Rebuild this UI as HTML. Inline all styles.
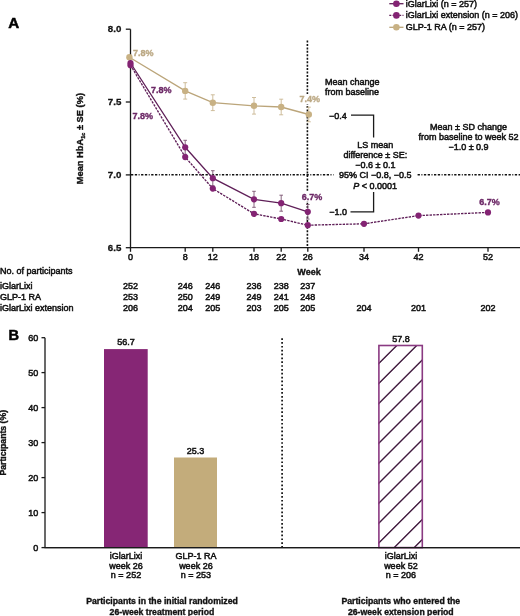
<!DOCTYPE html><html><head><meta charset="utf-8"><style>
html,body{margin:0;padding:0;background:#fff;}
svg{display:block;font-family:"Liberation Sans",Arial,Helvetica,sans-serif;}
.r{font-size:9px;fill:#111;stroke:#111;stroke-width:0.5px;paint-order:stroke;}
.b{font-size:9px;font-weight:bold;fill:#111;stroke:#111;stroke-width:0.35px;paint-order:stroke;}
.bt{font-size:9.1px;font-weight:bold;fill:#111;stroke:#111;stroke-width:0.3px;paint-order:stroke;}
</style></head><body>
<svg width="520" height="616" viewBox="0 0 520 616">
<text x="8.2" y="27.9" style="font-size:15.2px;font-weight:bold;stroke:#000;stroke-width:0.5px" fill="#000">A</text>
<path d="M130.5 29.2V247.7H520" fill="none" stroke="#1a1a1a" stroke-width="1.3"/>
<path d="M125.8 29.2H130.5" stroke="#1a1a1a" stroke-width="1.3"/>
<text class="bt" x="121.3" y="32.1" text-anchor="end" style="font-size:9.7px">8.0</text>
<path d="M125.8 102.0H130.5" stroke="#1a1a1a" stroke-width="1.3"/>
<text class="bt" x="121.3" y="104.9" text-anchor="end" style="font-size:9.7px">7.5</text>
<path d="M125.8 174.9H130.5" stroke="#1a1a1a" stroke-width="1.3"/>
<text class="bt" x="121.3" y="177.8" text-anchor="end" style="font-size:9.7px">7.0</text>
<path d="M125.8 247.7H130.5" stroke="#1a1a1a" stroke-width="1.3"/>
<text class="bt" x="121.3" y="250.6" text-anchor="end" style="font-size:9.7px">6.5</text>
<path d="M130.5 247.7V251.8" stroke="#1a1a1a" stroke-width="1.3"/>
<text class="r" x="130.5" y="260.4" text-anchor="middle">0</text>
<path d="M185.2 247.7V251.8" stroke="#1a1a1a" stroke-width="1.3"/>
<text class="r" x="185.2" y="260.4" text-anchor="middle">8</text>
<path d="M212.8 247.7V251.8" stroke="#1a1a1a" stroke-width="1.3"/>
<text class="r" x="212.8" y="260.4" text-anchor="middle">12</text>
<path d="M254.0 247.7V251.8" stroke="#1a1a1a" stroke-width="1.3"/>
<text class="r" x="254.0" y="260.4" text-anchor="middle">18</text>
<path d="M281.2 247.7V251.8" stroke="#1a1a1a" stroke-width="1.3"/>
<text class="r" x="281.2" y="260.4" text-anchor="middle">22</text>
<path d="M307.8 247.7V251.8" stroke="#1a1a1a" stroke-width="1.3"/>
<text class="r" x="307.8" y="260.4" text-anchor="middle">26</text>
<path d="M364.0 247.7V251.8" stroke="#1a1a1a" stroke-width="1.3"/>
<text class="r" x="364.0" y="260.4" text-anchor="middle">34</text>
<path d="M418.5 247.7V251.8" stroke="#1a1a1a" stroke-width="1.3"/>
<text class="r" x="418.5" y="260.4" text-anchor="middle">42</text>
<path d="M488.0 247.7V251.8" stroke="#1a1a1a" stroke-width="1.3"/>
<text class="r" x="488.0" y="260.4" text-anchor="middle">52</text>
<text class="b" x="309" y="275.1" text-anchor="middle">Week</text>
<text class="b" transform="translate(82.6 138.6) rotate(-90)" text-anchor="middle" style="font-size:9.3px">Mean HbA<tspan style="font-size:5.5px" dy="2">1c</tspan><tspan dy="-2"> ± SE (%)</tspan></text>
<path d="M131 174.8H520" stroke="#111" stroke-width="1.5" stroke-dasharray="2.3 1.5 2.3 1.5 1 1.5"/>
<path d="M307.4 40.5V247" stroke="#111" stroke-width="1.6" stroke-dasharray="2 1.45"/>
<rect x="300" y="94" width="20" height="10" fill="#fff"/>
<rect x="301" y="192" width="22" height="9" fill="#fff"/>
<rect x="333.5" y="169.5" width="83.5" height="10" fill="#fff"/>
<polyline points="129.4,57.2 185.2,90.9 212.8,102.7 254.0,105.8 281.2,107.0 308.8,114.5" fill="none" stroke="#bba57a" stroke-width="1.3"/>
<path d="M185.2 82.7V99.1M183.2 82.7H187.2M183.2 99.1H187.2" stroke="#c9b792" stroke-width="0.9" fill="none"/>
<path d="M212.8 94.8V110.6M210.8 94.8H214.8M210.8 110.6H214.8" stroke="#c9b792" stroke-width="0.9" fill="none"/>
<path d="M254.0 97.5V114.1M252.0 97.5H256.0M252.0 114.1H256.0" stroke="#c9b792" stroke-width="0.9" fill="none"/>
<path d="M281.2 99.2V114.8M279.2 99.2H283.2M279.2 114.8H283.2" stroke="#c9b792" stroke-width="0.9" fill="none"/>
<path d="M308.8 107.2V121.8M306.8 107.2H310.8M306.8 121.8H310.8" stroke="#c9b792" stroke-width="0.9" fill="none"/>
<circle cx="129.4" cy="57.2" r="3.2" fill="#c8b184"/>
<circle cx="185.2" cy="90.9" r="3.2" fill="#c8b184"/>
<circle cx="212.8" cy="102.7" r="3.2" fill="#c8b184"/>
<circle cx="254.0" cy="105.8" r="3.2" fill="#c8b184"/>
<circle cx="281.2" cy="107.0" r="3.2" fill="#c8b184"/>
<circle cx="308.8" cy="114.5" r="3.2" fill="#c8b184"/>
<polyline points="130.5,65.2 185.2,157.1 212.8,188.6 254.0,213.8 281.2,219.0 307.8,225.2 364.0,223.8 418.5,215.6 488.0,212.4" fill="none" stroke="#5f1f58" stroke-width="1.35" stroke-dasharray="2.4 1.1"/>
<polyline points="130.5,63.0 185.2,147.3 212.8,178.2 254.0,199.3 281.2,203.2 307.8,211.8" fill="none" stroke="#5f1f58" stroke-width="1.3"/>
<path d="M185.2 140.3V154.3M183.4 140.3H187.0M183.4 154.3H187.0" stroke="#7a5572" stroke-width="0.9" fill="none"/>
<path d="M212.8 170.7V185.7M211.0 170.7H214.6M211.0 185.7H214.6" stroke="#7a5572" stroke-width="0.9" fill="none"/>
<path d="M254.0 191.3V207.3M252.2 191.3H255.8M252.2 207.3H255.8" stroke="#7a5572" stroke-width="0.9" fill="none"/>
<path d="M281.2 195.2V211.2M279.4 195.2H283.0M279.4 211.2H283.0" stroke="#7a5572" stroke-width="0.9" fill="none"/>
<path d="M307.8 204.5V219.1M306.0 204.5H309.6M306.0 219.1H309.6" stroke="#7a5572" stroke-width="0.9" fill="none"/>
<circle cx="130.5" cy="65.2" r="3.1" fill="#832373"/>
<circle cx="185.2" cy="157.1" r="3.1" fill="#832373"/>
<circle cx="212.8" cy="188.6" r="3.1" fill="#832373"/>
<circle cx="254.0" cy="213.8" r="3.1" fill="#832373"/>
<circle cx="281.2" cy="219.0" r="3.1" fill="#832373"/>
<circle cx="307.8" cy="225.2" r="3.1" fill="#832373"/>
<circle cx="364.0" cy="223.8" r="3.1" fill="#832373"/>
<circle cx="418.5" cy="215.6" r="3.1" fill="#832373"/>
<circle cx="488.0" cy="212.4" r="3.1" fill="#832373"/>
<circle cx="130.5" cy="63.0" r="3.1" fill="#832373"/>
<circle cx="185.2" cy="147.3" r="3.1" fill="#832373"/>
<circle cx="212.8" cy="178.2" r="3.1" fill="#832373"/>
<circle cx="254.0" cy="199.3" r="3.1" fill="#832373"/>
<circle cx="281.2" cy="203.2" r="3.1" fill="#832373"/>
<circle cx="307.8" cy="211.8" r="3.1" fill="#832373"/>
<text class="b" x="133" y="55.6" style="fill:#bca985;stroke:#bca985">7.8%</text>
<text class="b" x="151" y="93.2" style="fill:#6c2866;stroke:#6c2866">7.8%</text>
<text class="b" x="132.5" y="119.2" style="fill:#6c2866;stroke:#6c2866">7.8%</text>
<text class="b" x="299.6" y="102.4" style="fill:#bca985;stroke:#bca985">7.4%</text>
<text class="b" x="301.8" y="199.7" style="fill:#6c2866;stroke:#6c2866">6.7%</text>
<text class="b" x="479.2" y="205.0" style="fill:#6c2866;stroke:#6c2866">6.7%</text>
<text class="r" x="325" y="84.5">Mean change</text>
<text class="r" x="325" y="95.2">from baseline</text>
<text class="r" x="346.8" y="118.6" text-anchor="end">−0.4</text>
<text class="r" x="347" y="214.6" text-anchor="end">−1.0</text>
<path d="M351 115.2H373.6V137.6M373.6 192.1V211.9H350.5" fill="none" stroke="#1a1a1a" stroke-width="1.3"/>
<text class="r" x="375.3" y="147.7" text-anchor="middle">LS mean</text>
<text class="r" x="375.3" y="157.9" text-anchor="middle">difference ± SE:</text>
<text class="r" x="375.3" y="168.1" text-anchor="middle">−0.6 ± 0.1</text>
<text class="r" x="375.3" y="178.3" text-anchor="middle">95% CI −0.8, −0.5</text>
<text class="r" x="375.2" y="188.6" text-anchor="middle"><tspan font-style="italic">P</tspan> &lt; 0.0001</text>
<text class="r" x="468.5" y="129.8" text-anchor="middle">Mean ± SD change</text>
<text class="r" x="468.5" y="140.0" text-anchor="middle">from baseline to week 52</text>
<text class="r" x="468.5" y="150.2" text-anchor="middle">−1.0 ± 0.9</text>
<path d="M389.3 3.7H403.5" stroke="#5f1f58" stroke-width="1.3"/>
<circle cx="396.4" cy="3.7" r="3.3" fill="#832373"/>
<text class="r" x="405.8" y="6.5">iGlarLixi (n = 257)</text>
<path d="M389.3 15.4H403.5" stroke="#5f1f58" stroke-width="1.3" stroke-dasharray="2 1.3"/>
<circle cx="396.4" cy="15.4" r="3.3" fill="#832373"/>
<text class="r" x="405.8" y="18.2">iGlarLixi extension (n = 206)</text>
<path d="M389.3 27.3H403.5" stroke="#bba57a" stroke-width="1.3"/>
<circle cx="396.4" cy="27.3" r="3.3" fill="#c8b184"/>
<text class="r" x="405.8" y="30.1">GLP-1 RA (n = 257)</text>
<text class="r" x="0" y="274.3">No. of participants</text>
<text class="r" x="0" y="289.1">iGlarLixi</text>
<text class="r" x="130.5" y="289.1" text-anchor="middle">252</text>
<text class="r" x="185.2" y="289.1" text-anchor="middle">246</text>
<text class="r" x="212.8" y="289.1" text-anchor="middle">246</text>
<text class="r" x="254.0" y="289.1" text-anchor="middle">236</text>
<text class="r" x="281.2" y="289.1" text-anchor="middle">238</text>
<text class="r" x="307.8" y="289.1" text-anchor="middle">237</text>
<text class="r" x="0" y="300.2">GLP-1 RA</text>
<text class="r" x="130.5" y="300.2" text-anchor="middle">253</text>
<text class="r" x="185.2" y="300.2" text-anchor="middle">250</text>
<text class="r" x="212.8" y="300.2" text-anchor="middle">249</text>
<text class="r" x="254.0" y="300.2" text-anchor="middle">249</text>
<text class="r" x="281.2" y="300.2" text-anchor="middle">241</text>
<text class="r" x="307.8" y="300.2" text-anchor="middle">248</text>
<text class="r" x="0" y="311.1">iGlarLixi extension</text>
<text class="r" x="130.5" y="311.1" text-anchor="middle">206</text>
<text class="r" x="185.2" y="311.1" text-anchor="middle">204</text>
<text class="r" x="212.8" y="311.1" text-anchor="middle">205</text>
<text class="r" x="254.0" y="311.1" text-anchor="middle">203</text>
<text class="r" x="281.2" y="311.1" text-anchor="middle">205</text>
<text class="r" x="307.8" y="311.1" text-anchor="middle">205</text>
<text class="r" x="364.0" y="311.1" text-anchor="middle">204</text>
<text class="r" x="418.5" y="311.1" text-anchor="middle">201</text>
<text class="r" x="488.0" y="311.1" text-anchor="middle">202</text>
<text x="8.5" y="340.3" style="font-size:14.6px;font-weight:bold;stroke:#000;stroke-width:0.5px" fill="#000">B</text>
<path d="M45 337.7V547.6H520" fill="none" stroke="#1a1a1a" stroke-width="1.3"/>
<path d="M41.5 547.6H45" stroke="#1a1a1a" stroke-width="1.3"/>
<text class="r" x="38.2" y="550.8" text-anchor="end">0</text>
<path d="M41.5 512.6H45" stroke="#1a1a1a" stroke-width="1.3"/>
<text class="r" x="38.2" y="515.8" text-anchor="end">10</text>
<path d="M41.5 477.6H45" stroke="#1a1a1a" stroke-width="1.3"/>
<text class="r" x="38.2" y="480.8" text-anchor="end">20</text>
<path d="M41.5 442.6H45" stroke="#1a1a1a" stroke-width="1.3"/>
<text class="r" x="38.2" y="445.8" text-anchor="end">30</text>
<path d="M41.5 407.6H45" stroke="#1a1a1a" stroke-width="1.3"/>
<text class="r" x="38.2" y="410.8" text-anchor="end">40</text>
<path d="M41.5 372.6H45" stroke="#1a1a1a" stroke-width="1.3"/>
<text class="r" x="38.2" y="375.8" text-anchor="end">50</text>
<path d="M41.5 337.7H45" stroke="#1a1a1a" stroke-width="1.3"/>
<text class="r" x="38.2" y="340.9" text-anchor="end">60</text>
<text class="b" transform="translate(6.3 442.7) rotate(-90)" text-anchor="middle" style="font-size:8.7px">Participants (%)</text>
<rect x="104" y="349.1" width="43.7" height="198.5" fill="#862675"/>
<rect x="174" y="457.5" width="43" height="90.1" fill="#c3ac7b"/>
<defs><clipPath id="hc"><rect x="378.3" y="344.9" width="44.6" height="202.7"/></clipPath></defs>
<path d="M182.3 560L412.3 330M202.2 560L432.2 330M222.2 560L452.2 330M242.1 560L472.1 330M262.1 560L492.1 330M282.0 560L512.0 330M302.0 560L532.0 330M321.9 560L551.9 330M341.9 560L571.9 330M361.8 560L591.8 330M381.8 560L611.8 330M401.8 560L631.8 330M421.7 560L651.7 330" stroke="#401a3e" stroke-width="1.4" clip-path="url(#hc)"/>
<rect x="378.9" y="345.5" width="43.4" height="202.1" fill="none" stroke="#8a3a82" stroke-width="1.6"/>
<path d="M45 547.6H520" stroke="#1a1a1a" stroke-width="1.3"/>
<text class="r" x="126" y="345.3" text-anchor="middle">56.7</text>
<text class="r" x="195.5" y="453.8" text-anchor="middle">25.3</text>
<text class="r" x="401" y="341.8" text-anchor="middle">57.8</text>
<path d="M282.1 338.2V547" stroke="#111" stroke-width="1.7" stroke-dasharray="1.7 2.15"/>
<text class="r" x="126" y="559.0" text-anchor="middle">iGlarLixi</text>
<text class="r" x="126" y="568.5" text-anchor="middle">week 26</text>
<text class="r" x="126" y="578.0" text-anchor="middle">n = 252</text>
<text class="r" x="195.9" y="559.0" text-anchor="middle">GLP-1 RA</text>
<text class="r" x="195.9" y="568.5" text-anchor="middle">week 26</text>
<text class="r" x="195.9" y="578.0" text-anchor="middle">n = 253</text>
<text class="r" x="400.9" y="559.0" text-anchor="middle">iGlarLixi</text>
<text class="r" x="400.9" y="568.5" text-anchor="middle">week 52</text>
<text class="r" x="400.9" y="578.0" text-anchor="middle">n = 206</text>
<text class="b" x="162" y="604.2" text-anchor="middle" style="font-size:8.7px">Participants in the initial randomized</text>
<text class="b" x="162" y="614.6" text-anchor="middle" style="font-size:8.7px">26-week treatment period</text>
<text class="b" x="400.8" y="604.2" text-anchor="middle" style="font-size:8.7px">Participants who entered the</text>
<text class="b" x="400.8" y="614.6" text-anchor="middle" style="font-size:8.7px">26-week extension period</text>
</svg></body></html>
